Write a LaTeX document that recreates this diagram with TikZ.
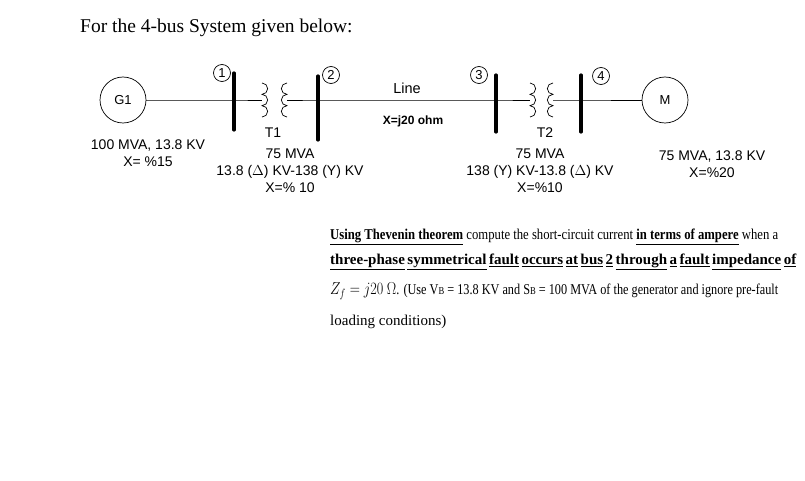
\documentclass[tikz,border=0pt]{standalone}
\usepackage{fontspec}
\usepackage{graphicx}
\setmainfont{Liberation Serif}
\newfontfamily\lab{Liberation Sans}
\begin{document}
\begin{tikzpicture}[x=1pt,y=-1pt,
  bus/.style={line width=3.2pt,line cap=round},
  wire/.style={line width=0.7pt},
  bub/.style={circle,draw,line width=0.7pt,inner sep=0pt,minimum size=17pt,font=\lab\fontsize{13}{13}\selectfont},
  mach/.style={circle,draw,line width=0.7pt,inner sep=0pt,minimum size=46pt,font=\lab\fontsize{13}{13}\selectfont},
  lbl/.style={font=\lab\fontsize{14}{17}\selectfont,align=center,inner sep=0pt},
  par/.style={font=\fontsize{15}{20}\selectfont,anchor=west,inner sep=0pt}]
\useasboundingbox (0,0) rectangle (805,481);
\node[anchor=west,inner sep=0pt,font=\fontsize{19.5}{22}\selectfont] (title) at (80,28) {For the 4-bus System given below:};
% machines
\node[mach] (G) at (123,100) {G1};
\node[mach] (M) at (665,100) {M};
% buses
\coordinate (b1t) at (234,73); \coordinate (b1b) at (234,130);
\coordinate (b2t) at (318,76); \coordinate (b2b) at (318,140);
\coordinate (b3t) at (496,75); \coordinate (b3b) at (496,132);
\coordinate (b4t) at (581,75); \coordinate (b4b) at (581,132);
\draw[bus] (b1t)--(b1b); \draw[bus] (b2t)--(b2b);
\draw[bus] (b3t)--(b3b); \draw[bus] (b4t)--(b4b);
\coordinate (b1) at (234,100); \coordinate (b2) at (318,100);
\coordinate (b3) at (496,100); \coordinate (b4) at (581,100);
\node[bub] (n1) at (222,73) {1};
\node[bub] (n2) at (331,75) {2};
\node[bub] (n3) at (479,75) {3};
\node[bub] (n4) at (601,76) {4};
% coils
\coordinate (c1) at (262,100); \coordinate (c2) at (287,100);
\coordinate (c3) at (530,100); \coordinate (c4) at (553,100);
\draw[wire] (262,83) arc(-90:90:5.67) arc(-90:90:5.67) arc(-90:90:5.67);
\draw[wire] (287,83) arc(270:90:5.67) arc(270:90:5.67) arc(270:90:5.67);
\draw[wire] (530,83) arc(-90:90:5.67) arc(-90:90:5.67) arc(-90:90:5.67);
\draw[wire] (553,83) arc(270:90:5.67) arc(270:90:5.67) arc(270:90:5.67);
% wires
\draw[wire] (G.east)--(b1)--(c1);
\draw[wire] (c2)--(b2)--(b3)--(c3);
\draw[wire] (c4)--(b4)--(M.west);
% labels
\node[lbl,font=\lab\fontsize{14.5}{17}\selectfont] (line) at (407,88) {Line};
\node[lbl,font=\lab\bfseries\fontsize{12}{14}\selectfont] (lx) at (413,121) {X=j20 ohm};
\node[lbl] (t1) at (273,133) {T1};
\node[lbl] (t2) at (545,133) {T2};
\node[lbl,anchor=north] (gd) at (148,140) {100 MVA, 13.8 KV\\X= \%15};
\node[lbl,anchor=north] (t1d) at (290,149) {75 MVA\\13.8 ($\Delta$) KV-138 (Y) KV\\X=\% 10};
\node[lbl,anchor=north] (t2d) at (540,149) {75 MVA\\138 (Y) KV-13.8 ($\Delta$) KV\\X=\%10};
\node[lbl,anchor=north] (md) at (712,151) {75 MVA, 13.8 KV\\X=\%20};
% paragraph
\node[par] (p1) at (330,237) {\resizebox{448pt}{\height}{\textbf{\underline{Using Thevenin theorem}} compute the short-circuit current \textbf{\underline{in terms of ampere}} when a}};
\node[par] (p2) at (330,262) {\makebox[448pt][s]{\bfseries \underline{three-phase}\ \underline{symmetrical}\ \underline{fault}\ \underline{occurs}\ \underline{at}\ \underline{bus}\ \underline{2}\ \underline{through}\ \underline{a}\ \underline{fault}\ \underline{impedance}\ \underline{of}}};
\node[par] (p3) at (330,291) {\resizebox{448pt}{\height}{\fontsize{18}{22}\selectfont$Z_f=j20\ \Omega$\fontsize{15}{20}\selectfont. (Use V{\fontsize{10.5}{12}\selectfont B} = 13.8 KV and S{\fontsize{10.5}{12}\selectfont B} = 100 MVA of the generator and ignore pre-fault}};
\node[par] (p4) at (330,322) {loading conditions)};
\end{tikzpicture}
\end{document}
